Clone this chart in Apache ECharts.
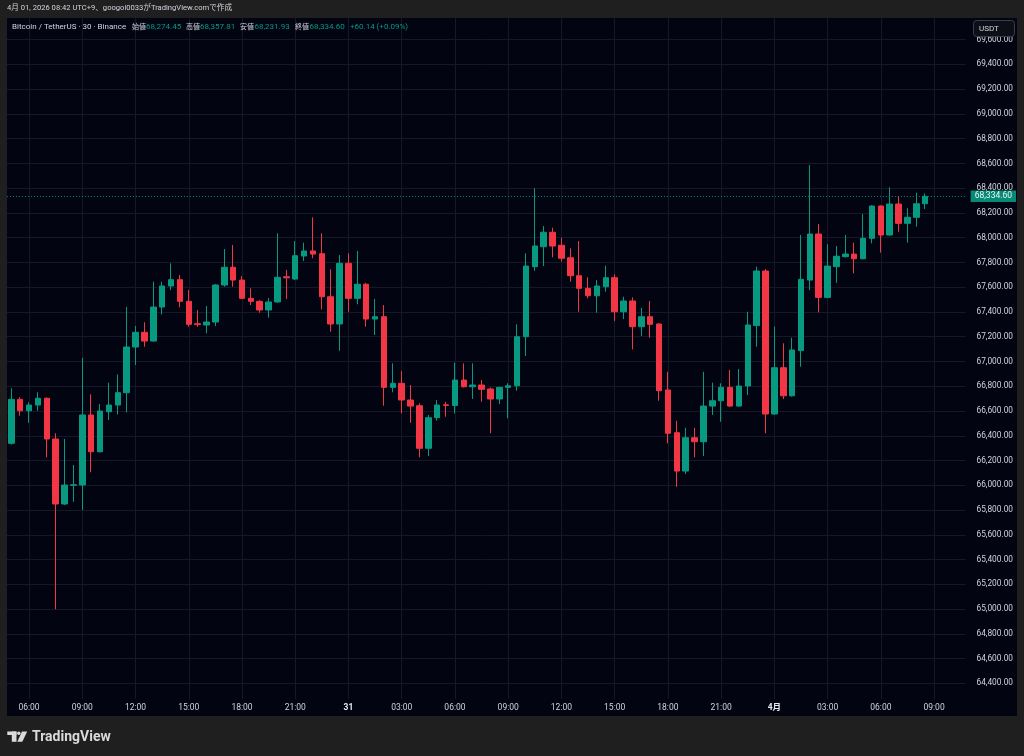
<!DOCTYPE html>
<html>
<head>
<meta charset="utf-8">
<script src="https://cdn.jsdelivr.net/npm/echarts@6/dist/echarts.min.js"></script>
<style>
html,body{margin:0;padding:0;background:#1f1f1f;}
#chart{width:1024px;height:756px;}
</style>
</head>
<body>
<div id="chart"></div>
<script>
// ---- data (30-minute candles, BTC/USDT, Binance) ----
const firstBarUTC = Date.UTC(2026, 2, 30, 5, 0); // 2026-03-30 05:00 (UTC+9 wall clock)
const padBars = 4;

const opens = [66339,66694,66602,66648,66703,66374,65849,66000,66002,66568,
  66271,66594,66648,66748,67117,67236,67165,67440,67610,67661,
  67486,67305,67295,67319,67618,67761,67658,67510,67486,67416,
  67481,67685,67666,67852,67893,67871,67523,67303,67793,67510,
  67624,67343,67362,66791,66824,66689,66643,66299,66546,66650,
  66645,66850,66796,66810,66778,66697,66791,66804,67200,67766,
  67927,68044,67939,67838,67693,67591,67531,67604,67677,67402,
  67489,67281,67362,67303,66770,66425,66115,66384,66352,66640,
  66683,66791,66640,66802,67290,67731,66576,66950,66723,67088,
  67658,68030,67518,67766,67847,67868,67830,67995,68256,68022,
  68272,68116,68165,68274.45];
const highs = [66783,66711,66670,66751,66710,66420,66374,66164,67030,66735,
  66656,66829,66896,67440,67287,67317,67645,67645,67793,67699,
  67577,67416,67448,67625,67909,67941,67690,67591,67495,67513,
  68036,67739,67973,67960,68165,68036,67745,67860,67874,67893,
  67636,67505,67456,66985,66923,66810,66662,66568,66689,66675,
  66990,66985,66985,66850,66790,66795,66824,67300,67874,68399,
  68095,68081,68000,67914,67973,67680,67658,67774,67704,67523,
  67518,67434,67489,67310,66917,66522,66465,66465,66917,66829,
  66824,66931,66939,67402,67766,67747,67281,67147,67192,68022,
  68587,68111,67947,67933,68022,67960,68191,68262,68262,68407,
  68337,68238,68364,68357.81];
const lows = [66330,66562,66505,66602,66226,64998,65840,65867,65800,66105,
  66265,66527,66573,66589,66972,67119,67160,67381,67577,67438,
  67281,67281,67228,67287,67604,67604,67505,67456,67394,67354,
  67475,67505,67660,67812,67834,67422,67241,67087,67402,67462,
  67281,67214,66643,66751,66581,66505,66226,66236,66522,66554,
  66581,66790,66697,66675,66420,66656,66541,66764,67044,67733,
  67771,67842,67806,67645,67402,67510,67394,67564,67327,67343,
  67098,67206,67192,66683,66339,65988,66091,66226,66236,66568,
  66513,66635,66635,66729,67119,66420,66570,66697,66715,66958,
  67577,67397,67512,67636,67840,67712,67825,67955,67879,68015,
  68048,67960,68089,68231.93];
const closes = [66694,66602,66648,66703,66374,65849,66002,66005,66568,66271,
  66600,66648,66748,67117,67236,67165,67440,67610,67661,67486,
  67300,67298,67319,67618,67761,67658,67510,67486,67416,67481,
  67680,67676,67855,67893,67868,67523,67303,67793,67510,67624,
  67343,67362,66791,66824,66689,66640,66299,66546,66648,66645,
  66850,66796,66810,66775,66697,66791,66804,67200,67771,67933,
  68044,67933,67834,67693,67591,67531,67610,67677,67402,67489,
  67281,67362,67300,66764,66420,66115,66384,66352,66640,66683,
  66791,66640,66802,67295,67731,66576,66950,66723,67093,67664,
  68030,67518,67771,67850,67868,67830,67995,68256,68022,68272,
  68116,68165,68274.46,68334.60];

const tickLabels = ['06:00','09:00','12:00','15:00','18:00','21:00','31','03:00','06:00',
  '09:00','12:00','15:00','18:00','21:00','4月','03:00','06:00','09:00'];
const firstTickIndex = 2, tickStep = 6;

const UP = '#089981', DOWN = '#F23645';
const TXT = '#d1d4dc', GRID = '#141827', BG = '#020412', FRAME = '#1f1f1f';

// ---- build categories ----
const pad2 = n => String(n).padStart(2, '0');
const categories = [];
for (let i = 0; i < opens.length + padBars; i++) {
  const d = new Date(firstBarUTC + i * 30 * 60000);
  categories.push(pad2(d.getUTCMonth() + 1) + '-' + pad2(d.getUTCDate()) + ' ' + pad2(d.getUTCHours()) + ':' + pad2(d.getUTCMinutes()));
}
const candleData = opens.map((o, i) => [o, closes[i], lows[i], highs[i]]);
const n = opens.length;
const fmt2 = v => Number(v).toLocaleString('en-US', {minimumFractionDigits: 2, maximumFractionDigits: 2});
const lastO = opens[n-1], lastH = highs[n-1], lastL = lows[n-1], lastC = closes[n-1];
const chg = lastC - closes[n-2];
const chgPct = chg / closes[n-2] * 100;
const chgText = (chg >= 0 ? '+' : '') + chg.toFixed(2) + ' (' + (chgPct >= 0 ? '+' : '') + chgPct.toFixed(2) + '%)';

const isTick = (idx) => idx >= firstTickIndex && (idx - firstTickIndex) % tickStep === 0;

const FONT = 'Roboto, "Noto Sans CJK JP", sans-serif';

// plot geometry
const bandW = 8.873;
const gridLeft = 11.3 - bandW / 2;
const gridRightX = gridLeft + bandW * categories.length;

const chart = echarts.init(document.getElementById('chart'), null, {renderer: 'canvas'});
const option = {
  backgroundColor: BG,
  animation: false,
  grid: {left: gridLeft, right: 1024 - gridRightX, top: 14.9, height: 693.2, containLabel: false},
  xAxis: [
    {
      type: 'category', data: categories, boundaryGap: true, position: 'bottom', z: 0,
      axisLine: {show: false}, axisTick: {show: false}, axisLabel: {show: false},
      splitLine: {show: true, interval: (idx) => isTick(idx), alignWithLabel: true, lineStyle: {color: GRID, width: 1}}
    },
    {
      type: 'category', data: categories, boundaryGap: true, position: 'bottom', z: 10,
      axisLine: {show: false}, axisTick: {show: false}, splitLine: {show: false},
      axisLabel: {
        interval: (idx) => isTick(idx), margin: -4,
        formatter: (val, idx) => {
          const t = tickLabels[(idx - firstTickIndex) / tickStep] || '';
          return /^\d\d:\d\d$/.test(t) ? t : '{b|' + t + '}';
        },
        color: TXT, fontSize: 8.5, fontFamily: FONT,
        rich: {b: {fontWeight: 'bold', color: '#e8e9ee', fontSize: 8.5, fontFamily: FONT}}
      }
    }
  ],
  yAxis: {
    type: 'value', position: 'right', min: 64200, max: 69800, interval: 200, scale: false,
    axisLine: {show: false}, axisTick: {show: false},
    axisLabel: {margin: 976.5 - gridRightX, showMinLabel: false, showMaxLabel: false,
      formatter: v => fmt2(v), color: TXT, fontSize: 8.3, fontFamily: FONT},
    splitLine: {show: true, showMinLine: false, showMaxLine: false, lineStyle: {color: GRID, width: 1}}
  },
  series: [{
    type: 'candlestick',
    xAxisIndex: 0,
    data: candleData,
    barWidth: 6,
    itemStyle: {color: UP, color0: DOWN, borderColor: UP, borderColor0: DOWN, borderWidth: 1},
    markLine: {
      silent: true, symbol: ['none', 'none'], animation: false,
      data: [{yAxis: lastC}],
      lineStyle: {color: UP, type: [1, 2], width: 1, opacity: 0.9},
      label: {show: true, position: 'end', distance: 5.5, formatter: () => fmt2(lastC),
        color: '#ffffff', backgroundColor: UP, padding: [2, 4, 1, 4], fontSize: 8.5, fontFamily: FONT}
    }
  }],
  graphic: {elements: [
    // cover under plot (time-axis row)
    {type: 'rect', z: 1, silent: true, shape: {x: 7, y: 699, width: gridRightX - 7 + 6, height: 17}, style: {fill: BG}},
    // outer frame
    {type: 'rect', z: 100, silent: true, shape: {x: 0, y: 0, width: 1024, height: 18}, style: {fill: FRAME}},
    {type: 'rect', z: 100, silent: true, shape: {x: 0, y: 716, width: 1024, height: 40}, style: {fill: FRAME}},
    {type: 'rect', z: 100, silent: true, shape: {x: 0, y: 0, width: 7, height: 756}, style: {fill: FRAME}},
    {type: 'rect', z: 100, silent: true, shape: {x: 1017, y: 0, width: 7, height: 756}, style: {fill: FRAME}},
    // top caption
    {type: 'text', z: 101, x: 7, y: 8.5, style: {text: '4月 01, 2026 08:42 UTC+9、googol0033がTradingView.comで作成', fill: TXT, fontSize: 7.6, fontFamily: FONT, verticalAlign: 'middle'}},
    // legend line
    {type: 'text', z: 101, x: 12, y: 27, style: {text: 'Bitcoin / TetherUS · 30 · Binance', fill: TXT, fontSize: 8, fontFamily: FONT, verticalAlign: 'middle'}},
    {type: 'text', z: 101, x: 132, y: 27, style: {text: '始値', fill: TXT, fontSize: 7, fontFamily: FONT, verticalAlign: 'middle'}},
    {type: 'text', z: 101, x: 146, y: 27, style: {text: fmt2(lastO), fill: UP, fontSize: 8, fontFamily: FONT, verticalAlign: 'middle'}},
    {type: 'text', z: 101, x: 186, y: 27, style: {text: '高値', fill: TXT, fontSize: 7, fontFamily: FONT, verticalAlign: 'middle'}},
    {type: 'text', z: 101, x: 200, y: 27, style: {text: fmt2(lastH), fill: UP, fontSize: 8, fontFamily: FONT, verticalAlign: 'middle'}},
    {type: 'text', z: 101, x: 240, y: 27, style: {text: '安値', fill: TXT, fontSize: 7, fontFamily: FONT, verticalAlign: 'middle'}},
    {type: 'text', z: 101, x: 254.5, y: 27, style: {text: fmt2(lastL), fill: UP, fontSize: 8, fontFamily: FONT, verticalAlign: 'middle'}},
    {type: 'text', z: 101, x: 295, y: 27, style: {text: '終値', fill: TXT, fontSize: 7, fontFamily: FONT, verticalAlign: 'middle'}},
    {type: 'text', z: 101, x: 309.5, y: 27, style: {text: fmt2(lastC), fill: UP, fontSize: 8, fontFamily: FONT, verticalAlign: 'middle'}},
    {type: 'text', z: 101, x: 350, y: 27, style: {text: chgText, fill: UP, fontSize: 8, fontFamily: FONT, verticalAlign: 'middle'}},
    // currency button
    {type: 'rect', z: 101, shape: {x: 973.5, y: 20.5, width: 41, height: 16, r: 3}, style: {fill: '#0d0f18', stroke: '#3a3e4a', lineWidth: 1}},
    {type: 'text', z: 102, x: 979, y: 28.5, style: {text: 'USDT', fill: TXT, fontSize: 8, fontFamily: FONT, verticalAlign: 'middle'}},
    // TradingView logo
    {type: 'rect', z: 101, shape: {x: 7.3, y: 731.5, width: 9.2, height: 3.5}, style: {fill: '#d9dadc'}},
    {type: 'rect', z: 101, shape: {x: 11.8, y: 731.5, width: 4.7, height: 10.3}, style: {fill: '#d9dadc'}},
    {type: 'circle', z: 101, shape: {cx: 18.8, cy: 733.2, r: 1.7}, style: {fill: '#d9dadc'}},
    {type: 'polygon', z: 101, shape: {points: [[22, 731.5], [27.2, 731.5], [22.3, 741.8], [17.3, 741.8]]}, style: {fill: '#d9dadc'}},
    {type: 'text', z: 101, x: 32, y: 737, style: {text: 'TradingView', fill: '#d9dadc', fontSize: 14, fontWeight: 'bold', fontFamily: FONT, verticalAlign: 'middle'}}
  ]}
};
chart.setOption(option);
</script>
</body>
</html>
